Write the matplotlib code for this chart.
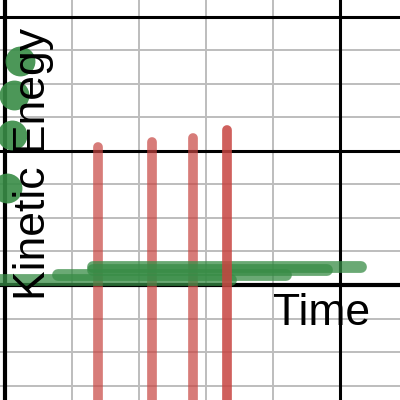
import numpy as np
import matplotlib
matplotlib.use("Agg")
import matplotlib.pyplot as plt

# units: one minor grid cell in x and y, origin at the black axes
xlim = (-0.070, 5.891)
ylim = (-3.43, 8.50)

# green dots near the y axis
dot_x = [0.23, 0.14, 0.11, 0.03]
dot_y = [6.68, 5.66, 4.46, 2.90]

# green horizontal segments (start x, end x, height)
seg_x0 = [1.32, 1.32, 0.79, -0.5]
seg_x1 = [5.31, 4.80, 4.19, 3.37]
seg_y = [0.54, 0.45, 0.30, 0.15]

# red vertical bars (x position, top)
bar_x = [1.39, 2.195, 2.81, 3.31]
bar_top = [4.13, 4.25, 4.37, 4.61]
bar_bottom = -4.0

green = "#388c46"
red = "#c74440"

fig = plt.figure(figsize=(4, 4), dpi=100)
ax = fig.add_axes([0, 0, 1, 1])
ax.set_xlim(*xlim)
ax.set_ylim(*ylim)
ax.axis("off")

# grid
for gx in range(0, 6):
    if gx % 5 == 0:
        ax.axvline(gx, color="black", lw=3.0 if gx == 0 else 2.2, zorder=1)
    else:
        ax.axvline(gx, color="#bdbdbd", lw=1.4, zorder=0)
for gy in range(-3, 9):
    if gy % 4 == 0:
        ax.axhline(gy, color="black", lw=3.0 if gy == 0 else 2.2, zorder=1)
    else:
        ax.axhline(gy, color="#bdbdbd", lw=1.4, zorder=0)

# red bars, the last one sits on top of the green
for i in range(len(bar_x)):
    z = 4 if i == len(bar_x) - 1 else 2
    ax.plot([bar_x[i], bar_x[i]], [bar_bottom, bar_top[i]], color=red,
            lw=7, alpha=0.7 if z == 2 else 0.85, solid_capstyle="round", zorder=z)

# green segments
for x0, x1, y in zip(seg_x0, seg_x1, seg_y):
    ax.plot([x0, x1], [y, y], color=green, lw=8.5, alpha=0.75,
            solid_capstyle="round", zorder=3)

# green dots
ax.plot(dot_x, dot_y, "o", color=green, ms=21.5, alpha=0.9, mec="none", zorder=3)

font = ["Liberation Sans", "DejaVu Sans"]
ax.text(0.60, -0.45, "Kinetic Enegy", rotation=90, rotation_mode="anchor",
        ha="left", va="baseline", fontsize=32, family=font, zorder=5)
ax.text(4.0, -1.2, "Time", ha="left", va="baseline", fontsize=32,
        family=font, zorder=5)

fig.savefig("out.png", dpi=100)
